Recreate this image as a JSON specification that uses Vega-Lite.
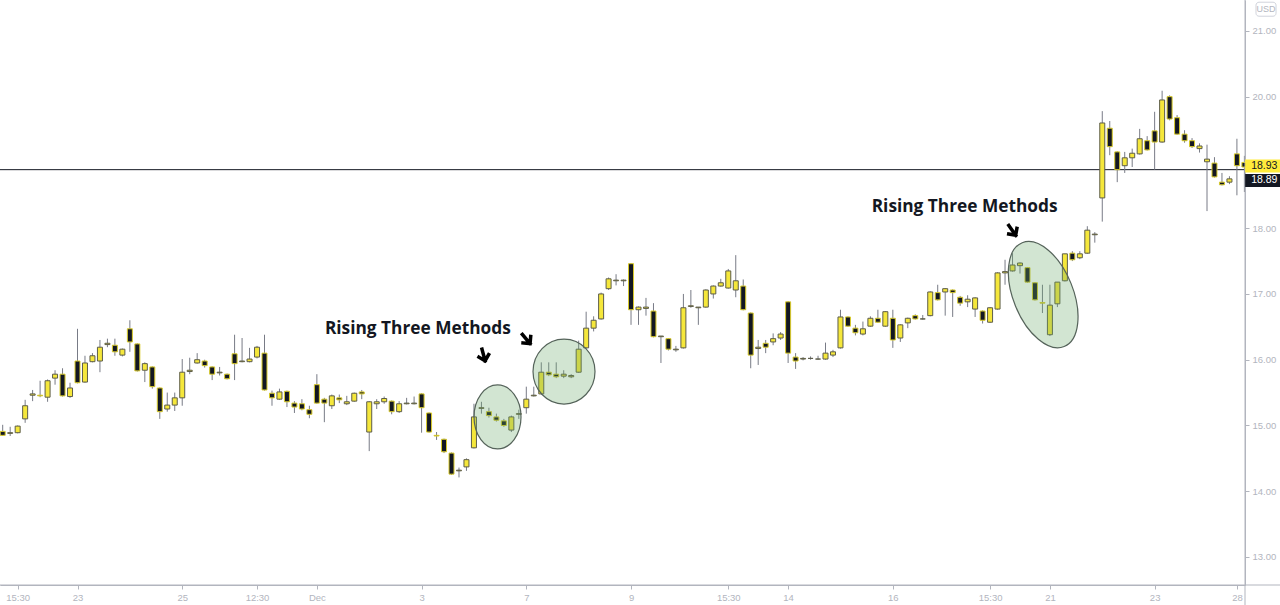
{
  "$schema": "https://vega.github.io/schema/vega-lite/v6.json",
  "width": 1245,
  "height": 585,
  "autosize": {"type": "none"},
  "padding": {"left": 0, "top": 0, "right": 35, "bottom": 20},
  "background": "#ffffff",
  "config": {
    "view": {"stroke": null},
    "scale": {"continuousPadding": 0},
    "axis": {"grid": false, "labelColor": "#b2b5be", "labelFont": "Liberation Sans", "labelFontSize": 9.5, "tickColor": "#b2b5be", "domainColor": "#b2b5be", "tickSize": 4, "labelPadding": 3}
  },
  "data": {"values": [
    {"i":0,"o":14.91,"h":15.01,"l":14.84,"c":14.85},{"i":1,"o":14.88,"h":14.98,"l":14.84,"c":14.89},{"i":2,"o":14.89,"h":15.0,"l":14.88,"c":14.99},{"i":3,"o":15.1,"h":15.39,"l":15.04,"c":15.3},{"i":4,"o":15.46,"h":15.54,"l":15.37,"c":15.48},
    {"i":5,"o":15.46,"h":15.68,"l":15.43,"c":15.45},{"i":6,"o":15.43,"h":15.7,"l":15.36,"c":15.68},{"i":7,"o":15.72,"h":15.84,"l":15.62,"c":15.78},{"i":8,"o":15.78,"h":15.87,"l":15.44,"c":15.45},{"i":9,"o":15.44,"h":15.65,"l":15.42,"c":15.57},
    {"i":10,"o":15.98,"h":16.47,"l":15.64,"c":15.65},{"i":11,"o":15.66,"h":16.06,"l":15.65,"c":15.95},{"i":12,"o":15.97,"h":16.1,"l":15.96,"c":16.06},{"i":13,"o":15.98,"h":16.3,"l":15.81,"c":16.19},{"i":14,"o":16.23,"h":16.32,"l":16.19,"c":16.25},
    {"i":15,"o":16.22,"h":16.32,"l":16.06,"c":16.12},{"i":16,"o":16.07,"h":16.17,"l":16.05,"c":16.16},{"i":17,"o":16.47,"h":16.6,"l":16.12,"c":16.27},{"i":18,"o":16.24,"h":16.25,"l":15.82,"c":15.83},{"i":19,"o":15.84,"h":15.96,"l":15.66,"c":15.94},
    {"i":20,"o":15.89,"h":15.9,"l":15.56,"c":15.59},{"i":21,"o":15.57,"h":15.58,"l":15.1,"c":15.21},{"i":22,"o":15.25,"h":15.5,"l":15.21,"c":15.31},{"i":23,"o":15.31,"h":15.5,"l":15.22,"c":15.42},{"i":24,"o":15.42,"h":16.01,"l":15.3,"c":15.81},
    {"i":25,"o":15.82,"h":16.03,"l":15.78,"c":15.84},{"i":26,"o":15.95,"h":16.1,"l":15.94,"c":16.0},{"i":27,"o":15.98,"h":16.0,"l":15.88,"c":15.91},{"i":28,"o":15.89,"h":15.9,"l":15.69,"c":15.78},{"i":29,"o":15.8,"h":15.89,"l":15.76,"c":15.81},
    {"i":30,"o":15.78,"h":15.79,"l":15.7,"c":15.71},{"i":31,"o":16.09,"h":16.38,"l":15.69,"c":15.94},{"i":32,"o":15.97,"h":16.33,"l":15.96,"c":15.98},{"i":33,"o":15.97,"h":16.18,"l":15.96,"c":16.01},{"i":34,"o":16.04,"h":16.21,"l":16.02,"c":16.19},
    {"i":35,"o":16.1,"h":16.38,"l":15.53,"c":15.54},{"i":36,"o":15.49,"h":15.53,"l":15.3,"c":15.42},{"i":37,"o":15.4,"h":15.56,"l":15.39,"c":15.51},{"i":38,"o":15.52,"h":15.53,"l":15.28,"c":15.36},{"i":39,"o":15.34,"h":15.37,"l":15.19,"c":15.28},
    {"i":40,"o":15.33,"h":15.4,"l":15.23,"c":15.25},{"i":41,"o":15.24,"h":15.3,"l":15.11,"c":15.17},{"i":42,"o":15.62,"h":15.78,"l":15.33,"c":15.34},{"i":43,"o":15.4,"h":15.42,"l":15.05,"c":15.34},{"i":44,"o":15.3,"h":15.47,"l":15.25,"c":15.45},
    {"i":45,"o":15.42,"h":15.47,"l":15.34,"c":15.39},{"i":46,"o":15.33,"h":15.45,"l":15.31,"c":15.36},{"i":47,"o":15.37,"h":15.5,"l":15.36,"c":15.49},{"i":48,"o":15.51,"h":15.54,"l":15.4,"c":15.48},{"i":49,"o":14.9,"h":15.37,"l":14.61,"c":15.36},
    {"i":50,"o":15.33,"h":15.4,"l":15.25,"c":15.36},{"i":51,"o":15.36,"h":15.44,"l":15.33,"c":15.41},{"i":52,"o":15.37,"h":15.38,"l":15.17,"c":15.21},{"i":53,"o":15.21,"h":15.37,"l":15.19,"c":15.33},{"i":54,"o":15.33,"h":15.42,"l":15.32,"c":15.34},
    {"i":55,"o":15.33,"h":15.44,"l":15.32,"c":15.34},{"i":56,"o":15.48,"h":15.49,"l":14.89,"c":15.27},{"i":57,"o":15.19,"h":15.2,"l":14.89,"c":14.9},{"i":58,"o":14.85,"h":14.9,"l":14.78,"c":14.84},{"i":59,"o":14.79,"h":14.8,"l":14.58,"c":14.6},
    {"i":60,"o":14.58,"h":14.59,"l":14.25,"c":14.26},{"i":61,"o":14.31,"h":14.36,"l":14.21,"c":14.32},{"i":62,"o":14.37,"h":14.5,"l":14.31,"c":14.48},{"i":63,"o":14.66,"h":15.33,"l":14.65,"c":15.13},{"i":64,"o":15.26,"h":15.36,"l":15.18,"c":15.27},
    {"i":65,"o":15.21,"h":15.27,"l":15.12,"c":15.15},{"i":66,"o":15.13,"h":15.18,"l":15.06,"c":15.08},{"i":67,"o":15.07,"h":15.1,"l":14.98,"c":15.0},{"i":68,"o":14.93,"h":15.15,"l":14.9,"c":15.13},{"i":69,"o":15.17,"h":15.24,"l":15.1,"c":15.18},
    {"i":70,"o":15.27,"h":15.59,"l":15.18,"c":15.4},{"i":71,"o":15.45,"h":15.59,"l":15.44,"c":15.46},{"i":72,"o":15.48,"h":15.96,"l":15.47,"c":15.81},{"i":73,"o":15.81,"h":15.96,"l":15.75,"c":15.77},{"i":74,"o":15.78,"h":15.96,"l":15.72,"c":15.74},
    {"i":75,"o":15.75,"h":15.84,"l":15.72,"c":15.78},{"i":76,"o":15.74,"h":15.78,"l":15.72,"c":15.76},{"i":77,"o":15.81,"h":16.29,"l":15.8,"c":16.16},{"i":78,"o":16.18,"h":16.73,"l":16.17,"c":16.48},{"i":79,"o":16.48,"h":16.66,"l":16.43,"c":16.6},
    {"i":80,"o":16.62,"h":17.02,"l":16.61,"c":17.0},{"i":81,"o":17.08,"h":17.25,"l":17.06,"c":17.23},{"i":82,"o":17.2,"h":17.3,"l":17.13,"c":17.21},{"i":83,"o":17.2,"h":17.22,"l":17.12,"c":17.21},{"i":84,"o":17.46,"h":17.47,"l":16.53,"c":16.76},
    {"i":85,"o":16.76,"h":16.81,"l":16.53,"c":16.8},{"i":86,"o":16.78,"h":16.94,"l":16.67,"c":16.8},{"i":87,"o":16.74,"h":16.86,"l":16.34,"c":16.35},{"i":88,"o":16.35,"h":16.36,"l":15.95,"c":16.36},{"i":89,"o":16.32,"h":16.33,"l":16.14,"c":16.16},
    {"i":90,"o":16.15,"h":16.21,"l":16.12,"c":16.16},{"i":91,"o":16.18,"h":17.0,"l":16.17,"c":16.79},{"i":92,"o":16.81,"h":17.06,"l":16.79,"c":16.82},{"i":93,"o":16.79,"h":16.8,"l":16.53,"c":16.8},{"i":94,"o":16.8,"h":17.07,"l":16.79,"c":17.06},
    {"i":95,"o":17.0,"h":17.13,"l":16.93,"c":17.12},{"i":96,"o":17.12,"h":17.23,"l":17.11,"c":17.17},{"i":97,"o":17.09,"h":17.38,"l":17.08,"c":17.35},{"i":98,"o":17.06,"h":17.59,"l":16.95,"c":17.2},{"i":99,"o":17.12,"h":17.22,"l":16.75,"c":16.76},
    {"i":100,"o":16.71,"h":16.72,"l":15.87,"c":16.07},{"i":101,"o":16.17,"h":16.3,"l":15.92,"c":16.19},{"i":102,"o":16.25,"h":16.3,"l":16.1,"c":16.19},{"i":103,"o":16.27,"h":16.4,"l":16.22,"c":16.32},{"i":104,"o":16.33,"h":16.42,"l":16.3,"c":16.39},
    {"i":105,"o":16.88,"h":16.89,"l":15.95,"c":16.1},{"i":106,"o":16.04,"h":16.1,"l":15.86,"c":15.98},{"i":107,"o":16.01,"h":16.04,"l":15.99,"c":16.02},{"i":108,"o":16.02,"h":16.05,"l":16.0,"c":16.02},{"i":109,"o":16.01,"h":16.06,"l":16.0,"c":16.01},
    {"i":110,"o":16.01,"h":16.26,"l":16.0,"c":16.1},{"i":111,"o":16.07,"h":16.15,"l":16.04,"c":16.12},{"i":112,"o":16.18,"h":16.76,"l":16.17,"c":16.65},{"i":113,"o":16.65,"h":16.66,"l":16.5,"c":16.51},{"i":114,"o":16.48,"h":16.53,"l":16.37,"c":16.41},
    {"i":115,"o":16.39,"h":16.58,"l":16.37,"c":16.47},{"i":116,"o":16.51,"h":16.66,"l":16.5,"c":16.63},{"i":117,"o":16.63,"h":16.76,"l":16.56,"c":16.57},{"i":118,"o":16.51,"h":16.74,"l":16.5,"c":16.73},{"i":119,"o":16.63,"h":16.76,"l":16.18,"c":16.3},
    {"i":120,"o":16.33,"h":16.54,"l":16.27,"c":16.53},{"i":121,"o":16.56,"h":16.64,"l":16.48,"c":16.63},{"i":122,"o":16.67,"h":16.69,"l":16.61,"c":16.62},{"i":123,"o":16.62,"h":16.68,"l":16.61,"c":16.62},{"i":124,"o":16.67,"h":17.04,"l":16.66,"c":17.03},
    {"i":125,"o":17.02,"h":17.14,"l":16.9,"c":16.91},{"i":126,"o":17.03,"h":17.09,"l":16.67,"c":17.08},{"i":127,"o":17.06,"h":17.07,"l":16.65,"c":17.02},{"i":128,"o":16.95,"h":16.97,"l":16.82,"c":16.86},{"i":129,"o":16.88,"h":16.98,"l":16.8,"c":16.92},
    {"i":130,"o":16.77,"h":16.95,"l":16.65,"c":16.94},{"i":131,"o":16.74,"h":16.75,"l":16.55,"c":16.6},{"i":132,"o":16.57,"h":16.8,"l":16.56,"c":16.79},{"i":133,"o":16.77,"h":17.33,"l":16.76,"c":17.32},{"i":134,"o":17.32,"h":17.52,"l":17.14,"c":17.34},
    {"i":135,"o":17.35,"h":17.62,"l":17.34,"c":17.44},{"i":136,"o":17.43,"h":17.48,"l":17.31,"c":17.47},{"i":137,"o":17.4,"h":17.41,"l":17.17,"c":17.18},{"i":138,"o":17.17,"h":17.18,"l":16.9,"c":16.91},{"i":139,"o":16.87,"h":17.14,"l":16.71,"c":16.86},
    {"i":140,"o":16.38,"h":17.14,"l":16.36,"c":16.83},{"i":141,"o":16.85,"h":17.18,"l":16.8,"c":17.18},{"i":142,"o":17.2,"h":17.61,"l":17.19,"c":17.61},{"i":143,"o":17.62,"h":17.65,"l":17.5,"c":17.52},{"i":144,"o":17.55,"h":17.65,"l":17.53,"c":17.61},
    {"i":145,"o":17.62,"h":18.03,"l":17.61,"c":17.97},{"i":146,"o":17.9,"h":17.94,"l":17.78,"c":17.91},{"i":147,"o":18.46,"h":19.78,"l":18.1,"c":19.6},{"i":148,"o":19.52,"h":19.63,"l":19.11,"c":19.24},{"i":149,"o":19.16,"h":19.17,"l":18.7,"c":18.89},
    {"i":150,"o":18.95,"h":19.16,"l":18.84,"c":19.07},{"i":151,"o":19.07,"h":19.21,"l":18.93,"c":19.14},{"i":152,"o":19.13,"h":19.51,"l":19.12,"c":19.36},{"i":153,"o":19.33,"h":19.4,"l":19.18,"c":19.19},{"i":154,"o":19.48,"h":19.77,"l":18.89,"c":19.31},
    {"i":155,"o":19.31,"h":20.09,"l":19.3,"c":19.95},{"i":156,"o":20.0,"h":20.02,"l":19.64,"c":19.66},{"i":157,"o":19.68,"h":19.72,"l":19.42,"c":19.43},{"i":158,"o":19.43,"h":19.49,"l":19.3,"c":19.33},{"i":159,"o":19.33,"h":19.37,"l":19.22,"c":19.24},
    {"i":160,"o":19.21,"h":19.29,"l":19.15,"c":19.25},{"i":161,"o":19.01,"h":19.27,"l":18.26,"c":19.05},{"i":162,"o":18.99,"h":19.08,"l":18.77,"c":18.78},{"i":163,"o":18.7,"h":18.84,"l":18.65,"c":18.66},{"i":164,"o":18.7,"h":18.79,"l":18.67,"c":18.75},
    {"i":165,"o":19.13,"h":19.36,"l":18.5,"c":18.95},{"i":166,"o":19.0,"h":19.1,"l":18.55,"c":18.93}
  ]},
  "layer": [
    {
      "data": {"values": [{"level": 18.89}]},
      "mark": {"type": "rule", "color": "#131722", "strokeWidth": 1},
      "encoding": {"y": {"field": "level", "type": "quantitative", "title": null, "scale": {"domain": [12.574, 21.47], "nice": false, "zero": false, "padding": 0}}}
    },
    {
      "mark": {"type": "rule", "color": "#787b86", "strokeWidth": 1},
      "encoding": {
        "x": {"field": "i", "type": "quantitative", "title": null,
          "scale": {"domain": [-0.361, 166.08], "nice": false, "zero": false, "padding": 0},
          "axis": {"values": [2,10,24,34,42,56,70,84,97,105,119,132,140,154,165],
            "labelExpr": "['15:30','23','25','12:30','Dec','3','7','9','15:30','14','16','15:30','21','23','28'][indexof([2,10,24,34,42,56,70,84,97,105,119,132,140,154,165], datum.value)]",
            "labelFlush": false, "labelOverlap": false}},
        "y": {"field": "l", "type": "quantitative", "title": null,
          "scale": {"domain": [12.574, 21.47], "nice": false, "zero": false, "padding": 0},
          "axis": {"orient": "right", "values": [13,13.5,14,14.5,15,15.5,16,16.5,17,17.5,18,18.5,19,19.5,20,20.5,21], "format": ".2f", "labelOverlap": false, "labelFlush": false}},
        "y2": {"field": "h"}
      }
    },
    {
      "mark": {"type": "bar", "size": 5, "strokeWidth": 1},
      "encoding": {
        "x": {"field": "i", "type": "quantitative", "title": null},
        "y": {"field": "o", "type": "quantitative", "title": null},
        "y2": {"field": "c"},
        "fill": {"condition": {"test": "datum.c >= datum.o", "value": "#f5e73b"}, "value": "#131722"},
        "stroke": {"condition": {"test": "datum.c >= datum.o", "value": "#5d5d4a"}, "value": "#d9cb2a"}
      }
    },
    {
      "data": {"values": [{"i": 66.15, "p": 15.13}]},
      "mark": {"type": "point", "shape": "M -23.5 0 A 23.5 32 0 1 0 23.5 0 A 23.5 32 0 1 0 -23.5 0 Z", "size": 4, "filled": true, "fill": "#6aa86a", "fillOpacity": 0.3, "stroke": "#55635a", "strokeWidth": 1.2, "opacity": 1},
      "encoding": {"x": {"field": "i", "type": "quantitative", "title": null}, "y": {"field": "p", "type": "quantitative", "title": null}}
    },
    {
      "data": {"values": [{"i": 75.04, "p": 15.82}]},
      "mark": {"type": "point", "shape": "M -31 0 A 31 32.5 0 1 0 31 0 A 31 32.5 0 1 0 -31 0 Z", "size": 4, "filled": true, "fill": "#6aa86a", "fillOpacity": 0.3, "stroke": "#55635a", "strokeWidth": 1.2, "opacity": 1},
      "encoding": {"x": {"field": "i", "type": "quantitative", "title": null}, "y": {"field": "p", "type": "quantitative", "title": null}}
    },
    {
      "data": {"values": [{"i": 139.1, "p": 16.99}]},
      "mark": {"type": "point", "shape": "M -30 0 A 30 56 0 1 0 30 0 A 30 56 0 1 0 -30 0 Z", "size": 4, "angle": 338, "filled": true, "fill": "#6aa86a", "fillOpacity": 0.3, "stroke": "#55635a", "strokeWidth": 1.2, "opacity": 1},
      "encoding": {"x": {"field": "i", "type": "quantitative", "title": null}, "y": {"field": "p", "type": "quantitative", "title": null}}
    },
    {
      "data": {"values": [{"i": 64.3, "p": 16.065, "a": 345}, {"i": 70.03, "p": 16.31, "a": 320}, {"i": 135.0, "p": 17.96, "a": 325}]},
      "mark": {"type": "point", "shape": "M 0 -6.5 L 0 5.5 M -5 0.5 L 0 5.5 L 5 0.5", "size": 4, "filled": false, "stroke": "#000000", "strokeWidth": 3.5, "strokeCap": "square", "strokeJoin": "miter", "opacity": 1},
      "encoding": {"x": {"field": "i", "type": "quantitative", "title": null}, "y": {"field": "p", "type": "quantitative", "title": null},
        "angle": {"field": "a", "type": "quantitative", "scale": null}}
    },
    {
      "data": {"values": [{"i": 55.5, "p": 16.47, "t": "Rising Three Methods"}, {"i": 128.6, "p": 18.32, "t": "Rising Three Methods"}]},
      "mark": {"type": "text", "font": "Open Sans", "fontWeight": "bold", "fontSize": 17.3, "color": "#131722", "align": "center", "baseline": "middle"},
      "encoding": {"x": {"field": "i", "type": "quantitative", "title": null}, "y": {"field": "p", "type": "quantitative", "title": null}, "text": {"field": "t"}}
    },
    {
      "data": {"values": [{"edge": 12.574}]},
      "mark": {"type": "rule", "color": "#b2b5be", "strokeWidth": 1},
      "encoding": {"x": {"datum": -0.361}, "x2": {"datum": 171.5}, "y": {"field": "edge", "type": "quantitative", "title": null}}
    },
    {
      "data": {"values": [{"edge": 166.08}]},
      "mark": {"type": "rule", "color": "#b2b5be", "strokeWidth": 1},
      "encoding": {"x": {"field": "edge", "type": "quantitative", "title": null}, "y": {"datum": 21.47}, "y2": {"datum": 12.27}}
    },
    {
      "data": {"values": [{"t": "18.93", "p": 18.947}, {"t": "18.89", "p": 18.726}]},
      "layer": [
        {
          "mark": {"type": "bar", "orient": "horizontal", "size": 13},
          "encoding": {"x": {"datum": 166.1}, "x2": {"datum": 171.5}, "y": {"field": "p", "type": "quantitative", "title": null},
            "fill": {"condition": {"test": "datum.t == '18.93'", "value": "#ffeb3b"}, "value": "#131722"}}
        },
        {
          "mark": {"type": "text", "font": "Liberation Sans", "fontSize": 10.5, "align": "left", "baseline": "middle", "dx": 0},
          "encoding": {"x": {"datum": 166.9}, "y": {"field": "p", "type": "quantitative", "title": null}, "text": {"field": "t"},
            "color": {"condition": {"test": "datum.t == '18.93'", "value": "#131722"}, "value": "#ffffff"}}
        }
      ]
    },
    {
      "data": {"values": [{"t": "USD", "p": 21.33}]},
      "layer": [
        {
          "mark": {"type": "bar", "orient": "horizontal", "size": 14, "cornerRadius": 3, "fill": "#ffffff", "stroke": "#d1d4dc", "strokeWidth": 1},
          "encoding": {"x": {"datum": 167.55}, "x2": {"datum": 170.23}, "y": {"field": "p", "type": "quantitative", "title": null}}
        },
        {
          "mark": {"type": "text", "font": "Liberation Sans", "fontSize": 9, "align": "center", "baseline": "middle", "color": "#b2b5be"},
          "encoding": {"x": {"datum": 168.89}, "y": {"field": "p", "type": "quantitative", "title": null}, "text": {"field": "t"}}
        }
      ]
    }
  ]
}
